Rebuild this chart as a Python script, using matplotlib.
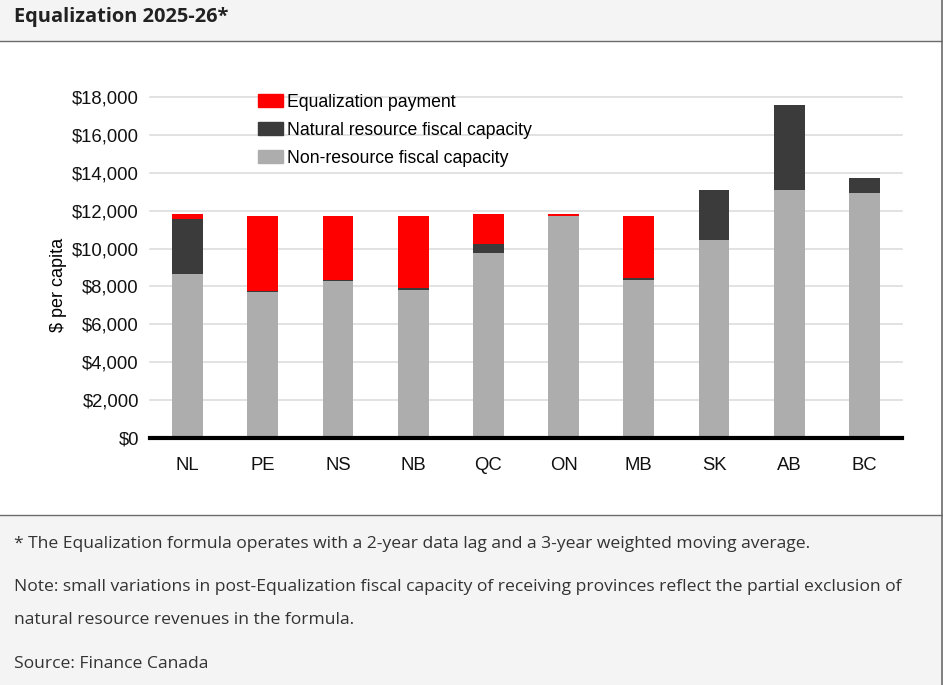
import numpy as np
import matplotlib
matplotlib.use('Agg')
import matplotlib.pyplot as plt
from matplotlib.patches import Rectangle, Patch
from matplotlib.ticker import FuncFormatter

provinces = ['NL', 'PE', 'NS', 'NB', 'QC', 'ON', 'MB', 'SK', 'AB', 'BC']
non_resource = [8650, 7720, 8290, 7810, 9750, 11700, 8340, 10460, 13090, 12950]
nat_resource = [2900, 20, 70, 120, 490, 30, 120, 2630, 4500, 770]
equalization = [270, 3990, 3370, 3800, 1580, 90, 3270, 0, 0, 0]

title = 'Equalization 2025-26*'
notes = ['* The Equalization formula operates with a 2-year data lag and a 3-year weighted moving average.',
         'Note: small variations in post-Equalization fiscal capacity of receiving provinces reflect the partial exclusion of',
         'natural resource revenues in the formula.',
         'Source: Finance Canada']

W, H = 943, 685
fig = plt.figure(figsize=(W / 100, H / 100), dpi=100)
fig.patch.set_facecolor('white')

# header / footer bands
bg = '#f4f4f4'
border = '#6b6b6b'
fig.patches.append(Rectangle((0, 1 - 41 / H), 1, 41 / H, transform=fig.transFigure,
                             facecolor=bg, edgecolor='none', zorder=0))
fig.patches.append(Rectangle((0, 0), 1, (H - 515) / H, transform=fig.transFigure,
                             facecolor=bg, edgecolor='none', zorder=0))
fig.lines.append(plt.Line2D([0, 1], [1 - 41 / H] * 2, transform=fig.transFigure, color=border, lw=1))
fig.lines.append(plt.Line2D([0, 1], [(H - 515) / H] * 2, transform=fig.transFigure, color=border, lw=1))
fig.lines.append(plt.Line2D([941.5 / W] * 2, [0, 1], transform=fig.transFigure, color=border, lw=1.2))

fig.text(14 / W, 1 - 17 / H, title, fontsize=14.4, fontweight='bold', family='Open Sans',
         color='#222222', va='center', ha='left')
ys = [544, 587, 620, 664]
for t, y in zip(notes, ys):
    fig.text(14 / W, 1 - y / H, t, fontsize=12.6, family='Open Sans', color='#333333',
             va='center', ha='left')

# chart
ax = fig.add_axes([150 / W, (H - 438) / H, 752 / W, (438 - 97) / H])
x = np.arange(len(provinces))
bw = 0.41
c_gray, c_dark, c_red = '#adadad', '#3b3b3b', '#ff0000'
ax.bar(x, non_resource, bw, color=c_gray, zorder=2)
ax.bar(x, nat_resource, bw, bottom=non_resource, color=c_dark, zorder=2)
bottom2 = np.array(non_resource) + np.array(nat_resource)
ax.bar(x, equalization, bw, bottom=bottom2, color=c_red, zorder=2)

ax.set_xlim(-0.5, len(provinces) - 0.5)
ax.set_ylim(0, 18000)
ax.set_yticks(np.arange(0, 18001, 2000))
ax.yaxis.set_major_formatter(FuncFormatter(lambda v, p: f'${v:,.0f}'))
ax.set_xticks(x)
ax.set_xticklabels(provinces)
for lab in ax.get_xticklabels() + ax.get_yticklabels():
    lab.set_family('Liberation Sans')
    lab.set_fontsize(13.3)
    lab.set_color('#111111')
ax.tick_params(length=0)
ax.tick_params(axis='y', pad=8)
ax.tick_params(axis='x', pad=14)
for v in np.arange(2000, 18001, 2000):
    ax.axhline(v, color='#dddddd', lw=1.2, zorder=0, clip_on=False)
for s in ['top', 'right', 'left']:
    ax.spines[s].set_visible(False)
ax.spines['bottom'].set_linewidth(3)
ax.spines['bottom'].set_color('black')
ax.spines['bottom'].set_zorder(3)
ax.set_ylabel('$ per capita', family='Liberation Sans', fontsize=13)
ax.yaxis.set_label_coords(-0.11, 0.45)

handles = [Patch(color=c_red, label='Equalization payment'),
           Patch(color=c_dark, label='Natural resource fiscal capacity'),
           Patch(color=c_gray, label='Non-resource fiscal capacity')]
ax.legend(handles=handles, loc='upper left', bbox_to_anchor=(101 / 752, 1.03), frameon=False,
          prop={'family': 'Liberation Sans', 'size': 12.7}, handlelength=1.4, handleheight=0.75,
          handletextpad=0.25, labelspacing=0.62, borderaxespad=0)

fig.savefig('out.png', dpi=100)
